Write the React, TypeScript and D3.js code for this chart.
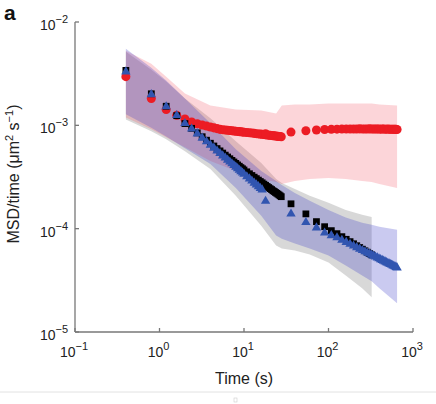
import React from 'react';
import * as d3 from 'd3';

// sampling times (s): fast acquisition, then slow acquisition
const denseT = [0.4, 0.8, 1.2, 1.6, 2.0, 2.4, 2.8, 3.2, 3.6, 4.0, 4.4, 4.8, 5.2, 5.6, 6.0, 6.4, 6.8, 7.2, 7.6, 8.0,
  8.4, 8.8, 9.2, 9.6, 10.0, 10.8, 11.6, 12.4, 13.2, 14.0, 14.8, 15.6, 16.4, 17.2, 18.0, 18.8, 19.6, 20.4, 21.2,
  22.0, 22.8, 23.6, 24.4, 25.2, 26.0, 26.8, 27.6];
const sparseT = [18, 36, 54, 72, 90, 108, 126, 144, 162, 180, 198, 216, 234, 252, 270, 288, 306, 324, 342, 360,
  378, 396, 414, 432, 450, 468, 486, 504, 522, 540, 558, 576, 594, 612, 630, 648];

// red circles
const redDense = [2.96e-3, 1.82e-3, 1.42e-3, 1.25e-3, 1.15e-3, 1.078e-3, 1.035e-3, 1.007e-3, 9.83e-4, 9.63e-4,
  9.45e-4, 9.29e-4, 9.14e-4, 9.08e-4, 9.02e-4, 8.96e-4, 8.91e-4, 8.86e-4, 8.81e-4, 8.77e-4, 8.73e-4, 8.69e-4,
  8.65e-4, 8.62e-4, 8.58e-4, 8.52e-4, 8.46e-4, 8.41e-4, 8.36e-4, 8.31e-4, 8.26e-4, 8.22e-4, 8.18e-4, 8.14e-4,
  8.10e-4, 8.07e-4, 8.03e-4, 8.00e-4, 7.97e-4, 7.94e-4, 7.91e-4, 7.88e-4, 7.86e-4, 7.83e-4, 7.80e-4, 7.78e-4, 7.76e-4];
const redSparse = [8.3e-4, 8.6e-4, 8.85e-4, 9.0e-4, 9.1e-4, 9.15e-4, 9.18e-4, 9.2e-4, 9.2e-4, 9.22e-4, 9.2e-4,
  9.22e-4, 9.24e-4, 9.22e-4, 9.2e-4, 9.22e-4, 9.24e-4, 9.22e-4, 9.2e-4, 9.2e-4, 9.22e-4, 9.2e-4, 9.18e-4, 9.2e-4,
  9.2e-4, 9.18e-4, 9.18e-4, 9.2e-4, 9.18e-4, 9.16e-4, 9.16e-4, 9.18e-4, 9.16e-4, 9.14e-4, 9.14e-4, 9.12e-4];

// black squares
const blackDense = [3.4e-3, 2.02e-3, 1.53e-3, 1.24e-3, 1.04e-3, 9.35e-4, 8.46e-4, 7.76e-4, 7.18e-4, 6.71e-4,
  6.31e-4, 5.96e-4, 5.66e-4, 5.39e-4, 5.15e-4, 4.94e-4, 4.75e-4, 4.58e-4, 4.42e-4, 4.28e-4, 4.14e-4, 4.02e-4,
  3.90e-4, 3.80e-4, 3.70e-4, 3.55e-4, 3.40e-4, 3.27e-4, 3.15e-4, 3.05e-4, 2.95e-4, 2.86e-4, 2.78e-4, 2.70e-4,
  2.63e-4, 2.56e-4, 2.50e-4, 2.44e-4, 2.39e-4, 2.33e-4, 2.29e-4, 2.24e-4, 2.20e-4, 2.16e-4, 2.12e-4, 2.08e-4, 2.04e-4];
const blackSparse = [1.74e-4, 1.39e-4, 1.17e-4, 1.045e-4, 9.57e-5, 8.95e-5, 8.37e-5, 7.89e-5, 7.49e-5, 7.14e-5,
  6.84e-5, 6.57e-5, 6.33e-5, 6.11e-5, 5.92e-5, 5.74e-5, 5.58e-5];

// blue triangles
const blueDense = [3.3e-3, 1.99e-3, 1.52e-3, 1.25e-3, 1.045e-3, 9.25e-4, 8.30e-4, 7.55e-4, 6.95e-4, 6.45e-4,
  6.03e-4, 5.67e-4, 5.36e-4, 5.08e-4, 4.84e-4, 4.62e-4, 4.43e-4, 4.26e-4, 4.10e-4, 3.95e-4, 3.82e-4, 3.69e-4,
  3.58e-4, 3.47e-4, 3.37e-4, 3.19e-4, 3.04e-4, 2.90e-4, 2.77e-4, 2.66e-4, 2.56e-4, 2.46e-4, 2.38e-4];
const blueSparse = [1.85e-4, 1.39e-4, 1.15e-4, 1.02e-4, 9.1e-5, 8.6e-5, 8.2e-5, 7.76e-5, 7.40e-5, 7.08e-5,
  6.81e-5, 6.57e-5, 6.36e-5, 6.17e-5, 6.00e-5, 5.84e-5, 5.70e-5, 5.57e-5, 5.44e-5, 5.33e-5, 5.23e-5, 5.13e-5,
  5.03e-5, 4.95e-5, 4.87e-5, 4.79e-5, 4.71e-5, 4.64e-5, 4.58e-5, 4.52e-5, 4.46e-5, 4.40e-5, 4.34e-5, 4.29e-5,
  4.24e-5, 4.19e-5];

// spread bands
const bandT = [0.4, 0.8, 1.2, 2, 4, 8, 16, 24, 28, 40, 60, 100, 160, 250, 324, 400, 648];
const redHi = [5.26e-3, 3.95e-3, 2.96e-3, 2.03e-3, 1.56e-3, 1.42e-3, 1.39e-3, 1.30e-3, 1.56e-3, 1.59e-3, 1.59e-3,
  1.63e-3, 1.63e-3, 1.63e-3, 1.63e-3, 1.59e-3, 1.56e-3];
const redLo = [1.19e-3, 9.15e-4, 7.67e-4, 6.14e-4, 4.51e-4, 3.61e-4, 3.03e-4, 2.83e-4, 2.71e-4, 2.89e-4, 3.03e-4,
  3.09e-4, 3.03e-4, 2.89e-4, 2.83e-4, 2.71e-4, 2.48e-4];
const grayHi = [5.14e-3, 3.45e-3, 2.65e-3, 1.82e-3, 1.17e-3, 7.02e-4, 4.31e-4, 3.03e-4, 2.77e-4, 2.42e-4, 2.08e-4,
  1.78e-4, 1.52e-4, 1.36e-4, 1.30e-4];
const grayLo = [1.14e-3, 8.76e-4, 7.33e-4, 5.62e-4, 3.78e-4, 2.08e-4, 1.07e-4, 6.87e-5, 6.42e-5, 6.14e-5, 5.62e-5,
  4.71e-5, 3.53e-5, 2.65e-5, 2.17e-5];
const blueHi = [5.5e-3, 3.61e-3, 2.71e-3, 1.82e-3, 1.045e-3, 5.88e-4, 3.61e-4, 2.89e-4, 2.65e-4, 2.22e-4, 1.86e-4,
  1.52e-4, 1.28e-4, 1.14e-4, 1.09e-4, 1.045e-4, 9.78e-5];
const blueLo = [1.28e-3, 9.5e-4, 7.8e-4, 6.0e-4, 4.22e-4, 2.48e-4, 1.33e-4, 8.57e-5, 8.01e-5, 7.17e-5, 6.42e-5,
  5.5e-5, 4.41e-5, 3.53e-5, 3.09e-5, 2.65e-5, 1.90e-5];

const xTickExp = [-1, 0, 1, 2, 3];
const yTickExp = [-5, -4, -3, -2];

const width = 436;
const height = 404;
const FONT = "'Liberation Sans', Arial, Helvetica, sans-serif";
const axisColor = '#777';

const x = d3.scaleLog().domain([0.1, 1000]).range([75, 413]);
const y = d3.scaleLog().domain([1e-5, 1e-2]).range([332, 22]);

const bandPath = (ts: number[], lo: number[], hi: number[]) =>
  d3.area<number>()
    .x((_, i) => x(ts[i]))
    .y0((_, i) => y(lo[i]))
    .y1((_, i) => y(hi[i]))(hi) as string;

const circle = d3.symbol(d3.symbolCircle, 64)() as string;
const square = d3.symbol(d3.symbolSquare, 46)() as string;
const triangle = d3.symbol(d3.symbolTriangle, 38)() as string;

const Markers = ({ ts, vs, path, color }: { ts: number[]; vs: number[]; path: string; color: string }) => (
  <g fill={color}>
    {vs.map((v, i) => (
      <path key={i} d={path} transform={`translate(${x(ts[i])},${y(v)})`} />
    ))}
  </g>
);

const sup = (e: number) => (e < 0 ? '\u2212' + Math.abs(e) : String(e));

export default function App() {
  return (
    <div style={{ position: 'absolute', left: 0, top: 0 }}>
      <svg width={width} height={height} style={{ display: 'block', background: '#fff' }} fontFamily={FONT}>
        {/* bands */}
        <path d={bandPath(bandT.slice(0, grayHi.length), grayLo, grayHi)} fill="#a9a9a9" fillOpacity={0.45} />
        <path d={bandPath(bandT, redLo, redHi)} fill="#f04a5a" fillOpacity={0.23} />
        <path d={bandPath(bandT, blueLo, blueHi)} fill="#3c3cc8" fillOpacity={0.27} />

        {/* markers */}
        <Markers ts={denseT} vs={redDense} path={circle} color="#ec1c24" />
        <Markers ts={sparseT} vs={redSparse} path={circle} color="#ec1c24" />
        <Markers ts={denseT} vs={blackDense} path={square} color="#000" />
        <Markers ts={sparseT.slice(1, 1 + blackSparse.length)} vs={blackSparse} path={square} color="#000" />
        <Markers ts={denseT} vs={blueDense} path={triangle} color="#3155b0" />
        <Markers ts={sparseT} vs={blueSparse} path={triangle} color="#3155b0" />

        {/* axes */}
        <g stroke={axisColor} strokeWidth={1.3} fill="none">
          <line x1={x(0.1)} x2={x(1000)} y1={y(1e-5)} y2={y(1e-5)} />
          <line x1={x(0.1)} x2={x(0.1)} y1={y(1e-5)} y2={y(1e-2)} />
          {xTickExp.map(e => (
            <line key={e} x1={x(10 ** e)} x2={x(10 ** e)} y1={y(1e-5)} y2={y(1e-5) - 4} />
          ))}
          {yTickExp.map(e => (
            <line key={e} x1={x(0.1)} x2={x(0.1) + 4} y1={y(10 ** e)} y2={y(10 ** e)} />
          ))}
        </g>
        <g fill="#222" fontSize={14}>
          {xTickExp.map(e => (
            <text key={e} x={x(10 ** e) - 1} y={357} textAnchor="middle">
              10<tspan dy={-7} fontSize={11}>{sup(e)}</tspan>
            </text>
          ))}
          {yTickExp.map(e => (
            <text key={e} x={68} y={y(10 ** e) + 8} textAnchor="end">
              10<tspan dy={-7} fontSize={11}>{sup(e)}</tspan>
            </text>
          ))}
        </g>

        {/* axis titles */}
        <text x={244} y={384} textAnchor="middle" fontSize={16} fill="#222">Time (s)</text>
        <text transform="translate(19,174) rotate(-90)" textAnchor="middle" fontSize={16} fill="#222">
          MSD/time (μm<tspan dy={-6} fontSize={11}>2</tspan>
          <tspan dy={6}> s</tspan>
          <tspan dy={-6} fontSize={11}>{'\u2212'}1</tspan>
          <tspan dy={6}>)</tspan>
        </text>

        <text x={4} y={20} fontSize={21} fontWeight="bold" fill="#111">a</text>

        {/* page separator */}
        <line x1={0} x2={width} y1={392} y2={392} stroke="#e2e2e2" strokeWidth={1} />
        <rect x={234} y={398} width={3} height={4} fill="none" stroke="#ccc" strokeWidth={0.6} />
      </svg>
    </div>
  );
}
